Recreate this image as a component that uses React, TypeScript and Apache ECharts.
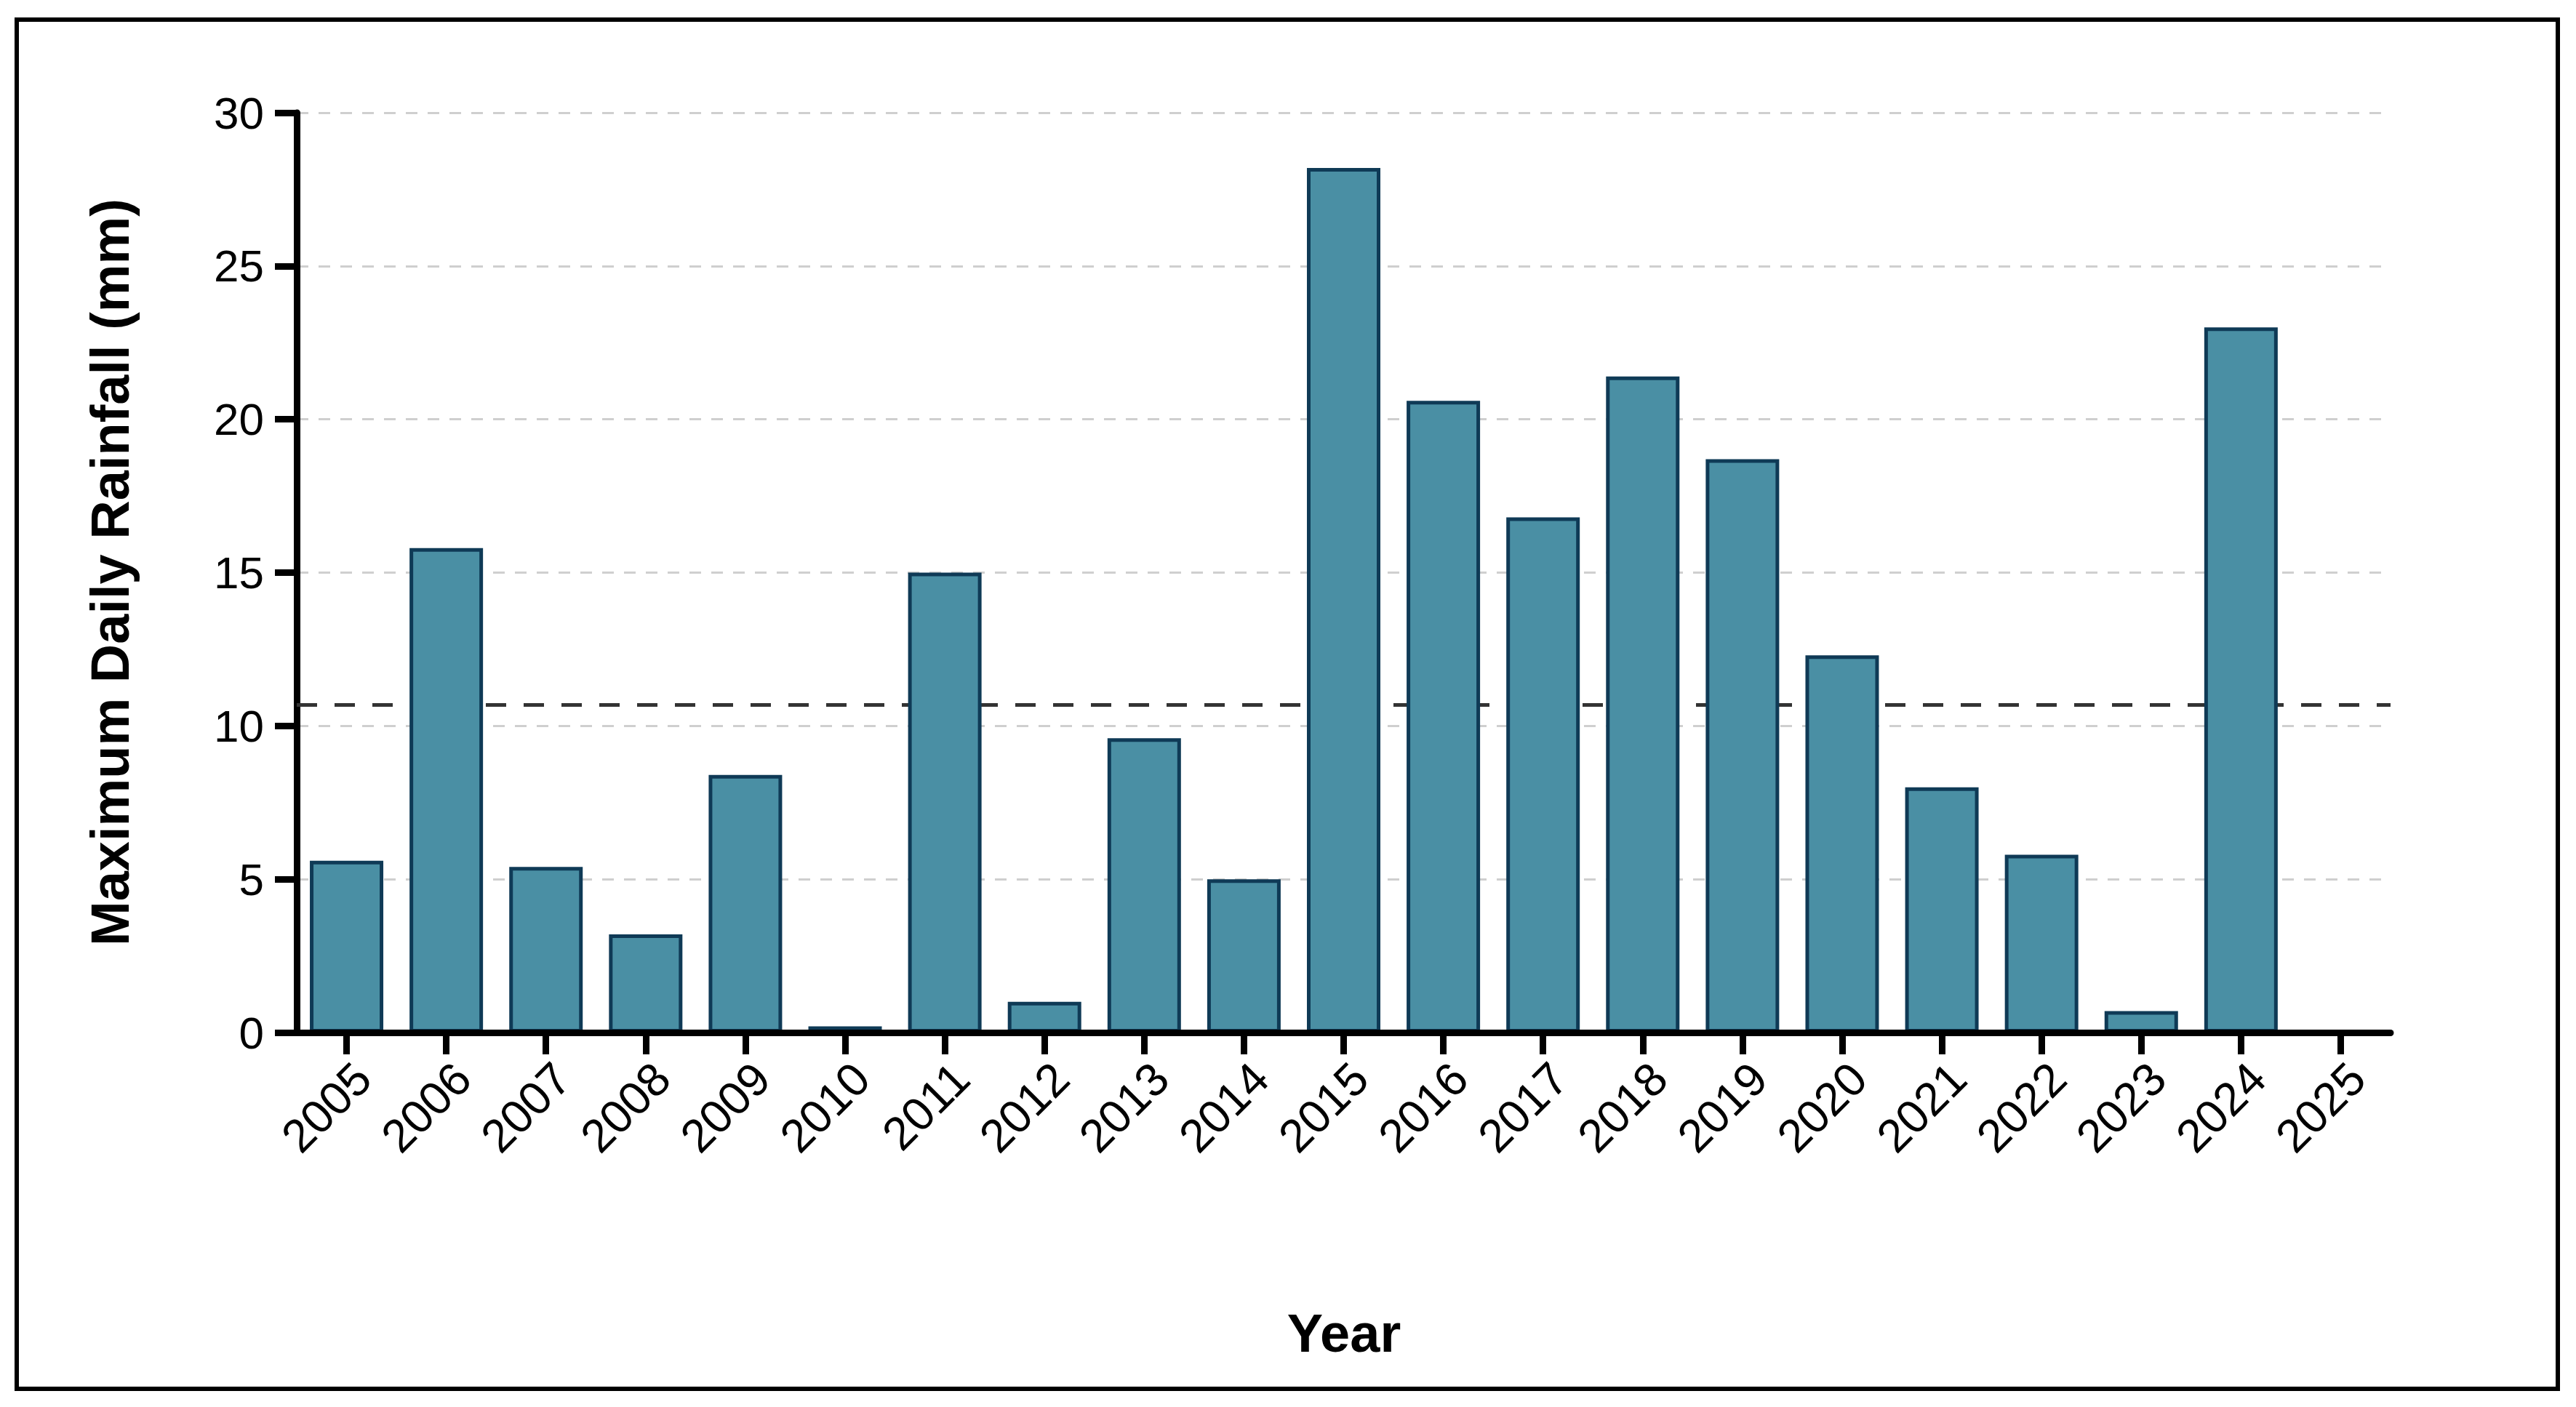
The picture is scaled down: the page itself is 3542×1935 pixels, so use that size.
import React, { useEffect, useRef } from "react";
import * as echarts from "echarts";

const years = ["2005","2006","2007","2008","2009","2010","2011","2012","2013","2014","2015","2016","2017","2018","2019","2020","2021","2022","2023","2024","2025"];
const maxDailyRainfall = [5.6, 15.8, 5.4, 3.2, 8.4, 0.2, 15.0, 1.0, 9.6, 5.0, 28.2, 20.6, 16.8, 21.4, 18.7, 12.3, 8.0, 5.8, 0.7, 23.0, null];
const meanRainfall = 10.7;
const yTicks = { min: 0, max: 30, interval: 5 };
const yTitle = "Maximum Daily Rainfall (mm)";
const xTitle = "Year";

const FONT = '"Liberation Sans", Arial, "DejaVu Sans", sans-serif';

export default function App() {
  const ref = useRef<HTMLDivElement>(null);
  useEffect(() => {
    if (!ref.current) return;
    const chart = echarts.init(ref.current, null, { renderer: "svg" });
    chart.setOption({
      animation: false,
      backgroundColor: "#ffffff",
      grid: { left: 408, right: 255, top: 155, bottom: 515, containLabel: false },
      xAxis: {
        type: "category",
        data: years,
        z: 3,
        axisLine: { show: true, lineStyle: { color: "#000", width: 9 } },
        axisTick: { show: true, alignWithLabel: true, length: 30, lineStyle: { color: "#000", width: 9 } },
        axisLabel: { rotate: 45, interval: 0, margin: 30, verticalAlign: "top", color: "#000", fontSize: 64, fontFamily: FONT },
        splitLine: { show: false },
      },
      yAxis: {
        type: "value",
        min: yTicks.min,
        max: yTicks.max,
        interval: yTicks.interval,
        axisLine: { show: true, lineStyle: { color: "#000", width: 9 } },
        axisTick: { show: true, length: 30, lineStyle: { color: "#000", width: 9 } },
        axisLabel: { margin: 45, color: "#000", fontSize: 62, fontFamily: FONT },
        splitLine: { show: true, lineStyle: { color: "#cfcfcf", width: 3, type: [16, 14] } },
      },
      series: [
        {
          type: "bar",
          data: maxDailyRainfall,
          barWidth: 101,
          z: 2,
          itemStyle: { color: "#4A8FA4", borderColor: "#0F3A56", borderWidth: 5 },
          markLine: {
            z: 1,
            silent: true,
            symbol: "none",
            label: { show: false },
            lineStyle: { color: "#333333", width: 5, type: [28, 24] },
            data: [{ yAxis: meanRainfall }],
          },
        },
      ],
      graphic: [
        {
          type: "rect",
          shape: { x: 23, y: 27, width: 3494, height: 1883 },
          style: { fill: "none", stroke: "#000", lineWidth: 6 },
          silent: true,
        },
        {
          type: "text",
          x: 151,
          y: 787,
          rotation: Math.PI / 2,
          style: { text: yTitle, font: `bold 74px ${FONT}`, fill: "#000", textAlign: "center", textVerticalAlign: "middle" },
        },
        {
          type: "text",
          x: 1848,
          y: 1833,
          style: { text: xTitle, font: `bold 74px ${FONT}`, fill: "#000", textAlign: "center", textVerticalAlign: "middle" },
        },
      ],
    });
    return () => chart.dispose();
  }, []);
  return (
    <div
      ref={ref}
      style={{ position: "fixed", left: 0, top: 0, width: 3542, height: 1935, background: "#fff" }}
    />
  );
}
